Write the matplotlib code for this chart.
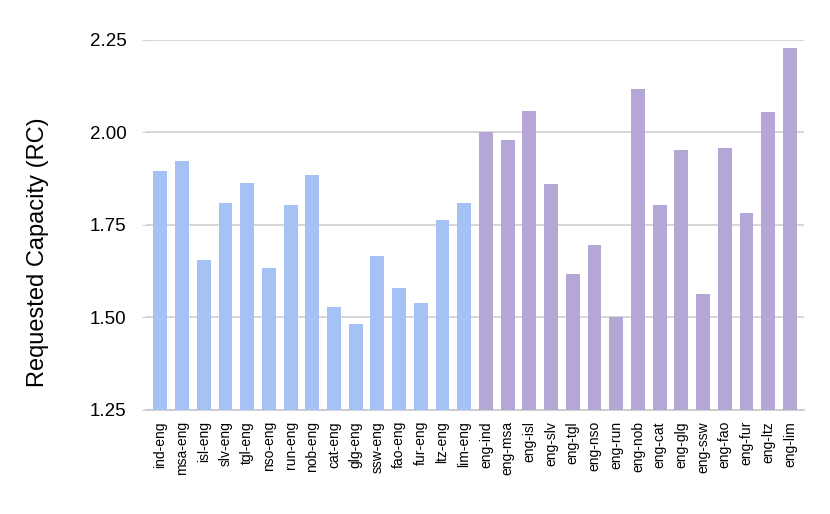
import matplotlib
matplotlib.use('Agg')
import matplotlib.pyplot as plt
from matplotlib import font_manager

# language pairs: into English first, then out of English
pairs_to_eng = ['ind-eng', 'msa-eng', 'isl-eng', 'slv-eng', 'tgl-eng', 'nso-eng', 'run-eng',
                'nob-eng', 'cat-eng', 'glg-eng', 'ssw-eng', 'fao-eng', 'fur-eng', 'ltz-eng', 'lim-eng']
rc_to_eng = [1.896, 1.922, 1.656, 1.809, 1.862, 1.634, 1.802,
             1.884, 1.527, 1.481, 1.667, 1.578, 1.540, 1.764, 1.809]

pairs_from_eng = ['eng-ind', 'eng-msa', 'eng-isl', 'eng-slv', 'eng-tgl', 'eng-nso', 'eng-run', 'eng-nob',
                  'eng-cat', 'eng-glg', 'eng-ssw', 'eng-fao', 'eng-fur', 'eng-ltz', 'eng-lim']
rc_from_eng = [2.000, 1.978, 2.057, 1.859, 1.616, 1.694, 1.500, 2.116,
               1.802, 1.951, 1.563, 1.956, 1.781, 2.053, 2.227]

y_ticks = [1.25, 1.50, 1.75, 2.00, 2.25]

installed = {f.name for f in font_manager.fontManager.ttflist}
base_font = 'Liberation Sans' if 'Liberation Sans' in installed else 'DejaVu Sans'
plt.rcParams['font.family'] = [base_font, 'DejaVu Sans']

labels = pairs_to_eng + pairs_from_eng
values = rc_to_eng + rc_from_eng
colors = ['#a4c2f4'] * len(pairs_to_eng) + ['#b4a7d6'] * len(pairs_from_eng)
x = list(range(len(labels)))

fig = plt.figure(figsize=(8.3, 5.14), dpi=100)
ax = fig.add_axes([146 / 830, 1 - 410 / 514, (804 - 146) / 830, (410 - 39.5) / 514])

ax.bar(x, [v - 1.25 for v in values], bottom=1.25, width=0.64, color=colors, zorder=3)

ax.set_xlim(-0.66, len(labels) - 0.35)
ax.set_ylim(1.25, 2.25)
ax.set_yticks(y_ticks)
ax.set_yticklabels(['%.2f' % t for t in y_ticks], fontsize=13.5)
ax.set_xticks(x)
ax.set_xticklabels(labels, rotation=90, fontsize=10)

ax.grid(axis='y', color='#d0d0d0', linewidth=1.2, zorder=0)
for s in ['top', 'right', 'left']:
    ax.spines[s].set_visible(False)
ax.spines['bottom'].set_color('#c8c8c8')
ax.spines['bottom'].set_linewidth(1.2)
ax.tick_params(axis='y', length=3, color='#d0d0d0', pad=11)
ax.tick_params(axis='x', length=0, pad=8)

ax.set_ylabel('Requested Capacity (RC)', fontsize=17)
ax.yaxis.set_label_coords(-0.148, 0.426)

fig.savefig('out.png', dpi=100)
